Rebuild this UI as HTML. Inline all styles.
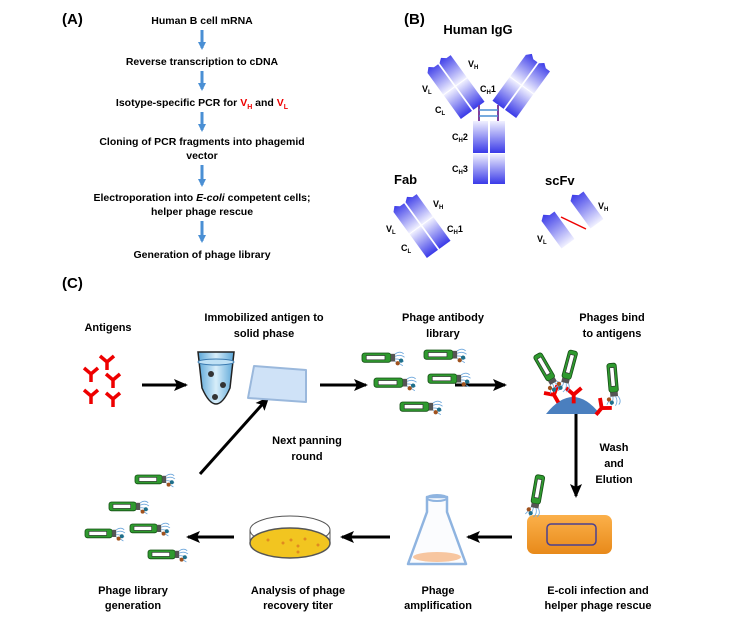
<!DOCTYPE html>
<html><head><meta charset="utf-8"><style>
body{margin:0;background:#fff}
svg{display:block}
text{font-family:"Liberation Sans",sans-serif;font-weight:bold;fill:#000}
</style></head><body>
<svg width="736" height="618" viewBox="0 0 736 618" xmlns="http://www.w3.org/2000/svg">
<defs>
<linearGradient id="bg" x1="0" y1="0" x2="0" y2="1"><stop offset="0" stop-color="#3a3ae8"/><stop offset="1" stop-color="#f0f0ff"/></linearGradient>
<linearGradient id="bg2" x1="0" y1="0" x2="0" y2="1"><stop offset="0" stop-color="#f0f0ff"/><stop offset="1" stop-color="#3a3ae8"/></linearGradient>
<linearGradient id="tube" x1="0" y1="0" x2="1" y2="0"><stop offset="0" stop-color="#5aa6d8"/><stop offset="0.5" stop-color="#d8eefa"/><stop offset="1" stop-color="#5aa6d8"/></linearGradient>
<linearGradient id="org" x1="0" y1="0" x2="0" y2="1"><stop offset="0" stop-color="#fbb04a"/><stop offset="1" stop-color="#e88a1a"/></linearGradient>
<marker id="ba" markerWidth="8" markerHeight="8" refX="6" refY="4" orient="auto" markerUnits="userSpaceOnUse"><path d="M0,0 L8,4 L0,8 Z" fill="#4a8fd4"/></marker>
<marker id="ka" markerWidth="14" markerHeight="12" refX="12" refY="6" orient="auto" markerUnits="userSpaceOnUse"><path d="M0,0 L14,6 L0,12 L3,6 Z" fill="#000"/></marker>
<g id="ph">
<rect x="0" y="0" width="34" height="11" rx="3" fill="#2f9a2f" stroke="#155015" stroke-width="1"/>
<rect x="5" y="3" width="22" height="5" fill="#fff" stroke="#333" stroke-width="0.8"/>
<rect x="34" y="1" width="5" height="9" fill="#555"/>
<path d="M39,1 q6,-4 10,0 M39,4 q6,-3 11,1 M39,7 q6,0 10,3 M39,10 q5,2 9,5" stroke="#6fa8dc" fill="none" stroke-width="1"/>
<circle cx="42" cy="12" r="2.5" fill="#a0521e"/><circle cx="46" cy="9" r="2.5" fill="#1f6f8a"/>
</g>
<g id="arm">
<path d="M-17,-31 L-12,-36 L-7,-32 L-1,-32 L-1,0 L-17,0 Z" fill="url(#bg)"/>
<path d="M1,-32 L6,-36 L11,-32 L17,-32 L17,0 L1,0 Z" fill="url(#bg)"/>
<rect x="-17" y="1" width="16" height="34" fill="url(#bg2)"/>
<rect x="1" y="1" width="16" height="34" fill="url(#bg2)"/>
</g>
<g id="dom"><path d="M-8,-17 L-3,-21 L2,-17 L8,-17 L8,17 L-8,17 Z" fill="url(#bg)"/></g>
<g id="ag" fill="none" stroke="#e00" stroke-width="3.5"><path d="M0,0 L7,6 L14,0 M7,6 L7,14"/></g>
</defs>

<!-- (A) -->
<text x="62" y="24" font-size="15">(A)</text>
<g font-size="10.5" text-anchor="middle">
<text x="202" y="24">Human B cell mRNA</text>
<text x="202" y="65">Reverse transcription to cDNA</text>
<text x="202" y="106">Isotype-specific PCR for <tspan fill="#e00">V<tspan font-size="7" dy="3">H</tspan></tspan><tspan dy="-3"> and </tspan><tspan fill="#e00">V<tspan font-size="7" dy="3">L</tspan></tspan></text>
<text x="202" y="145">Cloning of PCR fragments into phagemid</text>
<text x="202" y="159">vector</text>
<text x="202" y="201">Electroporation into <tspan font-style="italic">E-coli</tspan> competent cells;</text>
<text x="202" y="215">helper phage rescue</text>
<text x="202" y="258">Generation of phage library</text>
</g>
<g stroke="#4a8fd4" stroke-width="3" marker-end="url(#ba)">
<line x1="202" y1="30" x2="202" y2="48"/>
<line x1="202" y1="71" x2="202" y2="89"/>
<line x1="202" y1="112" x2="202" y2="130"/>
<line x1="202" y1="165" x2="202" y2="185"/>
<line x1="202" y1="221" x2="202" y2="241"/>
</g>

<!-- (B) -->
<text x="404" y="24" font-size="15">(B)</text>
<text x="478" y="34" font-size="13" text-anchor="middle">Human IgG</text>
<use href="#arm" transform="translate(455,86) rotate(-36) scale(0.86)"/>
<use href="#arm" transform="translate(522,85) rotate(36) scale(0.86)"/>
<line x1="479" y1="105" x2="479" y2="122" stroke="#8040a0" stroke-width="2"/>
<line x1="498" y1="105" x2="498" y2="122" stroke="#8040a0" stroke-width="2"/>
<line x1="479" y1="110" x2="498" y2="110" stroke="#4a8fd4" stroke-width="1.5"/>
<line x1="479" y1="116" x2="498" y2="116" stroke="#4a8fd4" stroke-width="1.5"/>
<rect x="473" y="121" width="15" height="32" fill="url(#bg2)"/>
<rect x="490" y="121" width="15" height="32" fill="url(#bg2)"/>
<rect x="473" y="154" width="15" height="30" fill="url(#bg2)"/>
<rect x="490" y="154" width="15" height="30" fill="url(#bg2)"/>
<g font-size="9">
<text x="468" y="67">V<tspan font-size="6" dy="2">H</tspan></text>
<text x="422" y="92">V<tspan font-size="6" dy="2">L</tspan></text>
<text x="480" y="92">C<tspan font-size="6" dy="2">H</tspan><tspan dy="-2">1</tspan></text>
<text x="435" y="113">C<tspan font-size="6" dy="2">L</tspan></text>
<text x="452" y="140">C<tspan font-size="6" dy="2">H</tspan><tspan dy="-2">2</tspan></text>
<text x="452" y="172">C<tspan font-size="6" dy="2">H</tspan><tspan dy="-2">3</tspan></text>
<text x="433" y="207">V<tspan font-size="6" dy="2">H</tspan></text>
<text x="386" y="232">V<tspan font-size="6" dy="2">L</tspan></text>
<text x="447" y="232">C<tspan font-size="6" dy="2">H</tspan><tspan dy="-2">1</tspan></text>
<text x="401" y="251">C<tspan font-size="6" dy="2">L</tspan></text>
<text x="598" y="209">V<tspan font-size="6" dy="2">H</tspan></text>
<text x="537" y="242">V<tspan font-size="6" dy="2">L</tspan></text>
</g>
<text x="394" y="184" font-size="13">Fab</text>
<text x="545" y="185" font-size="13">scFv</text>
<use href="#arm" transform="translate(421,225) rotate(-36) scale(0.86)"/>
<use href="#dom" transform="translate(558,230) rotate(-36)"/>
<use href="#dom" transform="translate(587,210) rotate(-36)"/>
<line x1="561" y1="217" x2="586" y2="229" stroke="#e00" stroke-width="1.5"/>

<!-- (C) -->
<text x="62" y="288" font-size="15">(C)</text>
<g font-size="11" text-anchor="middle">
<text x="108" y="331">Antigens</text>
<text x="264" y="321">Immobilized antigen to</text>
<text x="264" y="337">solid phase</text>
<text x="443" y="321">Phage antibody</text>
<text x="443" y="337">library</text>
<text x="612" y="321">Phages bind</text>
<text x="612" y="337">to antigens</text>
<text x="614" y="451">Wash</text>
<text x="614" y="467">and</text>
<text x="614" y="483">Elution</text>
<text x="307" y="444">Next panning</text>
<text x="307" y="460">round</text>
<text x="133" y="594">Phage library</text>
<text x="133" y="609">generation</text>
<text x="298" y="594">Analysis of phage</text>
<text x="298" y="609">recovery titer</text>
<text x="438" y="594">Phage</text>
<text x="438" y="609">amplification</text>
<text x="598" y="594">E-coli infection and</text>
<text x="598" y="609">helper phage rescue</text>
</g>

<!-- antigens -->
<use href="#ag" transform="translate(100,356)"/>
<use href="#ag" transform="translate(84,368)"/>
<use href="#ag" transform="translate(106,374)"/>
<use href="#ag" transform="translate(84,390)"/>
<use href="#ag" transform="translate(106,393)"/>

<!-- black arrows -->
<g stroke="#000" stroke-width="3" marker-end="url(#ka)">
<line x1="142" y1="385" x2="186" y2="385"/>
<line x1="320" y1="385" x2="366" y2="385"/>
<line x1="455" y1="385" x2="505" y2="385"/>
<line x1="576" y1="405" x2="576" y2="496"/>
<line x1="512" y1="537" x2="468" y2="537"/>
<line x1="390" y1="537" x2="342" y2="537"/>
<line x1="234" y1="537" x2="188" y2="537"/>
<line x1="200" y1="474" x2="268" y2="398"/>
</g>

<!-- tube -->
<path d="M198,352 L234,352 L230,388 Q216,420 202,388 Z" fill="url(#tube)" stroke="#222" stroke-width="1.5"/>
<ellipse cx="216" cy="362" rx="18" ry="3" fill="#bfe1f5" stroke="#3a7ab0"/>
<circle cx="211" cy="374" r="3" fill="#333"/><circle cx="223" cy="385" r="3" fill="#333"/><circle cx="215" cy="397" r="3" fill="#333"/>
<!-- plate -->
<path d="M254,366 L306,370 L306,402 L248,398 Z" fill="#cfe2f7" stroke="#9ab8dc" stroke-width="2" stroke-linejoin="round"/>

<!-- phages library -->
<use href="#ph" transform="translate(362,353) scale(0.85)"/>
<use href="#ph" transform="translate(424,350) scale(0.85)"/>
<use href="#ph" transform="translate(374,378) scale(0.85)"/>
<use href="#ph" transform="translate(428,374) scale(0.85)"/>
<use href="#ph" transform="translate(400,402) scale(0.85)"/>

<!-- bind -->
<path d="M546,414 Q573,380 600,414 Z" fill="#4a7fbf"/>
<use href="#ag" transform="translate(544,393) rotate(-30) scale(1.1)"/>
<use href="#ag" transform="translate(566,388) scale(1.1)"/>
<use href="#ag" transform="translate(600,398) rotate(40) scale(1.1)"/>
<use href="#ph" transform="translate(541,352) rotate(60) scale(0.85)"/>
<use href="#ph" transform="translate(578,352) rotate(105) scale(0.85)"/>
<use href="#ph" transform="translate(616,363) rotate(85) scale(0.85)"/>

<!-- orange box -->
<rect x="527" y="515" width="85" height="39" rx="7" fill="url(#org)"/>
<rect x="547" y="524" width="49" height="21" rx="4" fill="none" stroke="#4a4090" stroke-width="1.5"/>
<use href="#ph" transform="translate(545,476) rotate(100) scale(0.85)"/>

<!-- flask -->
<path d="M427,497 L447,497 L447,512 L466,564 L408,564 L427,512 Z" fill="#fbfcfe" stroke="#8fb4e0" stroke-width="2.5" stroke-linejoin="round"/>
<ellipse cx="437" cy="498" rx="10" ry="3" fill="none" stroke="#8fb4e0" stroke-width="2"/>
<ellipse cx="437" cy="557" rx="24" ry="5" fill="#f7c6a0"/>
<!-- dish -->
<ellipse cx="290" cy="530" rx="40" ry="14" fill="none" stroke="#555" stroke-width="1"/>
<ellipse cx="290" cy="543" rx="40" ry="15" fill="#f2c520" stroke="#555" stroke-width="1.5"/>
<line x1="250" y1="530" x2="250" y2="543" stroke="#555"/>
<line x1="330" y1="530" x2="330" y2="543" stroke="#555"/>
<g fill="#e08a20"><circle cx="268" cy="540" r="1.5"/><circle cx="291" cy="540" r="1.5"/><circle cx="298" cy="546" r="1.5"/><circle cx="305" cy="539" r="1.5"/><circle cx="283" cy="543" r="1.5"/><circle cx="318" cy="545" r="1.5"/><circle cx="298" cy="552" r="1.5"/></g>
<!-- phage generation -->
<use href="#ph" transform="translate(135,475) scale(0.8)"/>
<use href="#ph" transform="translate(109,502) scale(0.8)"/>
<use href="#ph" transform="translate(130,524) scale(0.8)"/>
<use href="#ph" transform="translate(85,529) scale(0.8)"/>
<use href="#ph" transform="translate(148,550) scale(0.8)"/>
</svg>
</body></html>
